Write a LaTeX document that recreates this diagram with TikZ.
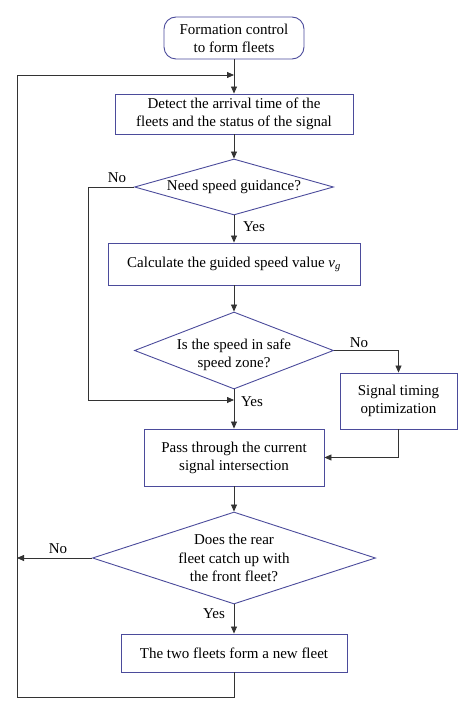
\documentclass[tikz,border=0pt]{standalone}
\usepackage{fontspec}
\setmainfont{Liberation Serif}
\usetikzlibrary{shapes.geometric,arrows.meta}
\definecolor{boxc}{HTML}{4B4B9B}
\definecolor{linec}{HTML}{333333}
\begin{document}
\begin{tikzpicture}[x=1pt,y=-1pt,
 box/.style={draw=boxc, line width=0.9pt, inner sep=0pt, align=center, font=\fontsize{15}{18}\selectfont},
 dia/.style={draw=boxc, line width=0.9pt, diamond, inner sep=0pt},
 txt/.style={align=center, font=\fontsize{15}{18.5}\selectfont, inner sep=0pt},
 conn/.style={draw=linec, line width=0.8pt},
 arr/.style={conn, -{Triangle[length=7pt,width=6pt]}},
 lab/.style={font=\fontsize{15}{16}\selectfont, inner sep=1pt}]
\useasboundingbox (0,0) rectangle (474,714);
\node[box, rounded corners=12pt, minimum width=140pt, minimum height=42pt] (start) at (234,38) {Formation control\\to form fleets};
\node[box, minimum width=238pt, minimum height=40pt] (detect) at (234,114) {Detect the arrival time of the\\fleets and the status of the signal};
\node[dia, minimum width=199pt, minimum height=56pt] (d1) at (234,187) {};
\node[txt] (t1) at (d1) {Need speed guidance?};
\node[box, minimum width=252pt, minimum height=42pt] (calc) at (234,264) {Calculate the guided speed value {\itshape v}\textsubscript{\itshape g}};
\node[dia, minimum width=199pt, minimum height=77pt] (d2) at (234,350.5) {};
\node[txt] (t2) at (234,355) {Is the speed in safe\\speed zone?};
\node[box, minimum width=117pt, minimum height=56pt] (sig) at (398.5,401) {Signal timing\\optimization};
\node[box, minimum width=180pt, minimum height=57pt] (pass) at (234,457.5) {Pass through the current\\signal intersection};
\node[dia, minimum width=283pt, minimum height=92pt] (d3) at (234,558) {};
\node[txt] (t3) at (d3) {Does the rear\\fleet catch up with\\the front fleet?};
\node[box, minimum width=226pt, minimum height=38pt] (fin) at (234,653) {The two fleets form a new fleet};
\coordinate (top) at (234,75);
\coordinate (lt) at (17,75);
\coordinate (lb) at (17,697);
\coordinate (n1) at (88,187);
\coordinate (n1b) at (88,400);
\coordinate (j2) at (234,400);
\draw[arr] (start.south) -- (detect.north);
\draw[arr] (detect.south) -- (d1.north);
\draw[arr] (d1.south) -- (calc.north);
\draw[arr] (calc.south) -- (d2.north);
\draw[arr] (d2.south) -- (pass.north);
\draw[arr] (d1.west) -- (n1) -- (n1b) -- (j2);
\draw[arr] (d2.east) -| (sig.north);
\draw[arr] (sig.south) |- (pass.east);
\draw[arr] (pass.south) -- (d3.north);
\draw[arr] (d3.west) -- (d3.west -| lt);
\draw[arr] (d3.south) -- (fin.north);
\draw[arr] (fin.south) |- (lb) -- (lt) -- (top);
\node[lab] (l1) at (117,178) {No};
\node[lab] (l2) at (254,227) {Yes};
\node[lab] (l3) at (359,343) {No};
\node[lab] (l4) at (252,402) {Yes};
\node[lab] (l5) at (58,549) {No};
\node[lab] (l6) at (214,614) {Yes};
\end{tikzpicture}
\end{document}
